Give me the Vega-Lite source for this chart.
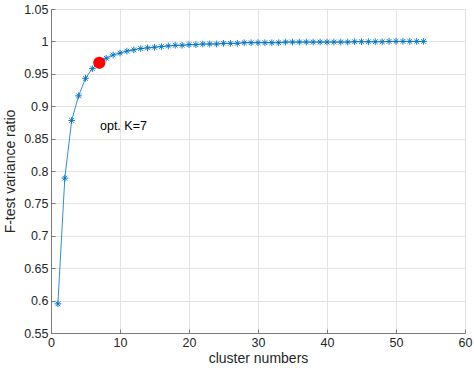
{
  "$schema": "https://vega.github.io/schema/vega-lite/v6.json",
  "autosize": {"type": "none"},
  "width": 414,
  "height": 324,
  "padding": {"left": 51, "top": 9, "right": 9, "bottom": 41},
  "background": "white",
  "config": {
    "font": "Liberation Sans",
    "view": {"stroke": null},
    "axis": {
      "labelFont": "Liberation Sans",
      "titleFont": "Liberation Sans",
      "labelFontSize": 12.5,
      "titleFontSize": 14,
      "titleFontWeight": "normal",
      "labelColor": "#262626",
      "titleColor": "#262626",
      "domainColor": "#7a7a7a",
      "tickColor": "#7a7a7a",
      "tickSize": -4,
      "gridColor": "#e3e3e3",
      "gridWidth": 1,
      "labelOverlap": false,
      "labelFlush": false
    }
  },
  "datasets": {
    "curve": [
      {"k": 1, "ratio": 0.595}, {"k": 2, "ratio": 0.789}, {"k": 3, "ratio": 0.878},
      {"k": 4, "ratio": 0.916}, {"k": 5, "ratio": 0.943}, {"k": 6, "ratio": 0.958},
      {"k": 7, "ratio": 0.967}, {"k": 8, "ratio": 0.974}, {"k": 9, "ratio": 0.979},
      {"k": 10, "ratio": 0.982}, {"k": 11, "ratio": 0.985}, {"k": 12, "ratio": 0.987},
      {"k": 13, "ratio": 0.989}, {"k": 14, "ratio": 0.990}, {"k": 15, "ratio": 0.991},
      {"k": 16, "ratio": 0.992}, {"k": 17, "ratio": 0.993}, {"k": 18, "ratio": 0.994},
      {"k": 19, "ratio": 0.994}, {"k": 20, "ratio": 0.995}, {"k": 21, "ratio": 0.995},
      {"k": 22, "ratio": 0.996}, {"k": 23, "ratio": 0.996}, {"k": 24, "ratio": 0.996},
      {"k": 25, "ratio": 0.997}, {"k": 26, "ratio": 0.997}, {"k": 27, "ratio": 0.997},
      {"k": 28, "ratio": 0.998}, {"k": 29, "ratio": 0.998}, {"k": 30, "ratio": 0.998},
      {"k": 31, "ratio": 0.998}, {"k": 32, "ratio": 0.998}, {"k": 33, "ratio": 0.998},
      {"k": 34, "ratio": 0.999}, {"k": 35, "ratio": 0.999}, {"k": 36, "ratio": 0.999},
      {"k": 37, "ratio": 0.999}, {"k": 38, "ratio": 0.999}, {"k": 39, "ratio": 0.999},
      {"k": 40, "ratio": 0.999}, {"k": 41, "ratio": 0.999}, {"k": 42, "ratio": 0.999},
      {"k": 43, "ratio": 0.999}, {"k": 44, "ratio": 0.9995}, {"k": 45, "ratio": 0.9995},
      {"k": 46, "ratio": 0.9995}, {"k": 47, "ratio": 0.9995}, {"k": 48, "ratio": 0.9995},
      {"k": 49, "ratio": 1.0}, {"k": 50, "ratio": 1.0}, {"k": 51, "ratio": 1.0},
      {"k": 52, "ratio": 1.0}, {"k": 53, "ratio": 1.0}, {"k": 54, "ratio": 1.0}
    ],
    "optimum": [{"k": 7, "ratio": 0.967}],
    "note": [{"k": 7.1, "ratio": 0.869, "label": "opt. K=7"}]
  },
  "encoding": {
    "x": {
      "field": "k", "type": "quantitative", "title": "cluster numbers",
      "scale": {"domain": [0, 60], "nice": false, "zero": false},
      "axis": {"values": [0, 10, 20, 30, 40, 50, 60], "labelOverlap": false, "labelPadding": 7, "titlePadding": 3}
    },
    "y": {
      "field": "ratio", "type": "quantitative", "title": "F-test variance ratio",
      "scale": {"domain": [0.55, 1.05], "nice": false, "zero": false},
      "axis": {"values": [0.55, 0.6, 0.65, 0.7, 0.75, 0.8, 0.85, 0.9, 0.95, 1, 1.05], "format": ".2~f", "labelOverlap": false, "labelPadding": 7, "titlePadding": 6}
    }
  },
  "layer": [
    {
      "data": {"name": "curve"},
      "mark": {"type": "line", "color": "#0072BD", "strokeWidth": 0.8}
    },
    {
      "data": {"name": "curve"},
      "mark": {
        "type": "point",
        "shape": "M-1,0L1,0M0,-1L0,1M-0.7,-0.7L0.7,0.7M-0.7,0.7L0.7,-0.7",
        "filled": false,
        "stroke": "#0072BD",
        "strokeWidth": 0.9,
        "size": 45,
        "opacity": 1
      }
    },
    {
      "data": {"name": "optimum"},
      "mark": {"type": "point", "shape": "circle", "filled": true, "color": "#FF0000", "opacity": 1, "size": 150}
    },
    {
      "data": {"name": "note"},
      "mark": {"type": "text", "align": "left", "baseline": "middle", "fontSize": 12.5, "font": "Liberation Sans", "color": "#000000"},
      "encoding": {
        "text": {"field": "label"}
      }
    }
  ]
}
